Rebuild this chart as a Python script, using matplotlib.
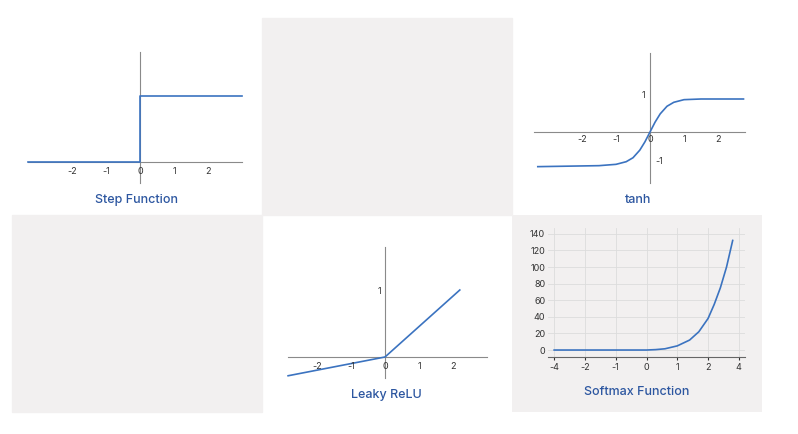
import matplotlib.pyplot as plt
from matplotlib.patches import Rectangle

plt.rcParams['font.family'] = 'Inter'

LINE = '#3b73c0'
AXC = '#8a8a8a'
TITLE = '#2c56a0'
GRAY_BG = '#f2f0f0'

# data
step_x = [-3.3, 0, 0, 3.0]
step_y = [0, 0, 1, 1]
sig_x = [-3.2, -1.5, -1.0, -0.7, -0.5, -0.3, -0.15, 0, 0.15, 0.3, 0.5, 0.7, 1.0, 1.5, 3.0]
sig_y = [0, 0, 0.02, 0.07, 0.14, 0.26, 0.37, 0.5, 0.63, 0.74, 0.86, 0.93, 0.98, 1, 1]
tanh_x = [-3.3, -1.5, -1.0, -0.7, -0.5, -0.3, -0.15, 0, 0.15, 0.3, 0.5, 0.7, 1.0, 1.5, 2.75]
tanh_y = [-1.05, -1.02, -0.98, -0.9, -0.78, -0.55, -0.3, 0, 0.3, 0.55, 0.78, 0.9, 0.98, 1, 1]
relu_x = [-3.3, 0, 2.2]
relu_y = [0, 0, 1]
leaky_x = [-2.85, 0, 2.2]
leaky_y = [-0.28, 0, 1]
soft_labels = ['-4', '-2', '-1', '0', '1', '2', '4']
soft_pos = [0, 3, 3.3, 3.6, 4, 4.4, 4.7, 5, 5.2, 5.4, 5.6, 5.8]
soft_val = [0, 0, 0.5, 1.5, 5, 12, 22, 38, 55, 75, 100, 132]

W, H = 798, 434
fig = plt.figure(figsize=(W / 100, H / 100), dpi=100)
fig.patch.set_facecolor('white')

def panel(px0, py0, px1, py1, ox, oy, ux, uy, bg):
    if bg != 'white':
        fig.patches.append(Rectangle((px0 / W, 1 - py1 / H), (px1 - px0) / W, (py1 - py0) / H,
                                     transform=fig.transFigure, color=bg, zorder=0))
    ax = fig.add_axes([px0 / W, 1 - py1 / H, (px1 - px0) / W, (py1 - py0) / H])
    ax.set_xlim((px0 - ox) / ux, (px1 - ox) / ux)
    ax.set_ylim((oy - py1) / uy, (oy - py0) / uy)
    ax.axis('off')
    return ax

def axes_lines(ax, x0, x1, y0, y1):
    ax.plot([x0, x1], [0, 0], color=AXC, lw=0.8)
    ax.plot([0, 0], [y0, y1], color=AXC, lw=0.8)

def xt(ax, vals, dy):
    for v in vals:
        ax.text(v, dy, str(v), ha='center', va='top', fontsize=6.5, color='#333333')

def title(ax, s, x, y):
    ax.text(x, y, s, ha='center', va='center', fontsize=9, color=TITLE, fontweight='medium')

# Step
ax = panel(12, 18, 262, 215, 140, 162, 34, 66, 'white')
axes_lines(ax, -3.3, 3.0, -0.32, 1.66)
ax.plot(step_x, step_y, color=LINE, lw=1.2)
xt(ax, [-2, -1, 0, 1, 2], -0.07)
title(ax, 'Step Function', -0.1, -0.58)

# Sigmoid
ax = panel(262, 18, 512, 215, 385, 162, 34, 66, GRAY_BG)
axes_lines(ax, -3.2, 3.0, -0.32, 1.66)
ax.plot(sig_x, sig_y, color=LINE, lw=1.2)
xt(ax, [-2, -1, 0, 1, 2], -0.07)
ax.text(-0.12, 1.0, '1', ha='right', va='center', fontsize=6.5, color='#333333')
title(ax, 'Sigmoid', 0.05, -0.58)

# tanh
ax = panel(512, 18, 762, 215, 650, 132, 34, 33, 'white')
axes_lines(ax, -3.4, 2.8, -1.55, 2.4)
ax.plot(tanh_x, tanh_y, color=LINE, lw=1.2)
xt(ax, [-2, -1, 0, 1, 2], -0.1)
ax.text(-0.15, 1.1, '1', ha='right', va='center', fontsize=6.5, color='#333333')
ax.text(0.15, -0.9, '-1', ha='left', va='center', fontsize=6.5, color='#333333')
title(ax, 'tanh', -0.35, -2.05)

# ReLU
ax = panel(12, 215, 262, 412, 140, 357, 34, 67, GRAY_BG)
axes_lines(ax, -3.3, 3.0, -0.31, 1.64)
ax.plot(relu_x, relu_y, color=LINE, lw=1.2)
xt(ax, [-2, -1, 0, 1, 2], -0.07)
ax.text(-0.12, 0.98, '1', ha='right', va='center', fontsize=6.5, color='#333333')
title(ax, 'ReLU', -0.1, -0.57)

# Leaky ReLU
ax = panel(262, 215, 512, 412, 385, 357, 34, 67, 'white')
axes_lines(ax, -2.85, 3.0, -0.31, 1.64)
ax.plot(leaky_x, leaky_y, color=LINE, lw=1.2)
xt(ax, [-2, -1, 0, 1, 2], -0.07)
ax.text(-0.12, 0.98, '1', ha='right', va='center', fontsize=6.5, color='#333333')
title(ax, 'Leaky ReLU', 0.05, -0.57)

# Softmax
bg = fig.add_axes([512 / W, 1 - 412 / H, 250 / W, 197 / H])
bg.set_facecolor(GRAY_BG)
bg.set_xticks([]); bg.set_yticks([])
for s in bg.spines.values():
    s.set_visible(False)
bg.text(0.5, 0.1, 'Softmax Function', ha='center', va='center', fontsize=9,
        color=TITLE, fontweight='medium', transform=bg.transAxes)

ax = fig.add_axes([548 / W, 1 - 357 / H, 197 / W, 129 / H])
ax.patch.set_visible(False)
ax.set_xlim(-0.2, 6.2)
ax.set_ylim(-8.4, 147)
ax.plot(soft_pos, soft_val, color=LINE, lw=1.2)
ax.set_xticks(range(7))
ax.set_xticklabels(soft_labels)
ax.set_yticks(range(0, 141, 20))
ax.grid(color='#dcdcdc', lw=0.6)
ax.tick_params(labelsize=6.5, length=2, colors='#333333', pad=2)
ax.tick_params(axis='y', length=0)
for k in ['top', 'right', 'left']:
    ax.spines[k].set_visible(False)
ax.spines['bottom'].set_color('#666666')
ax.spines['bottom'].set_linewidth(0.8)

fig.savefig('out.png', dpi=100)
